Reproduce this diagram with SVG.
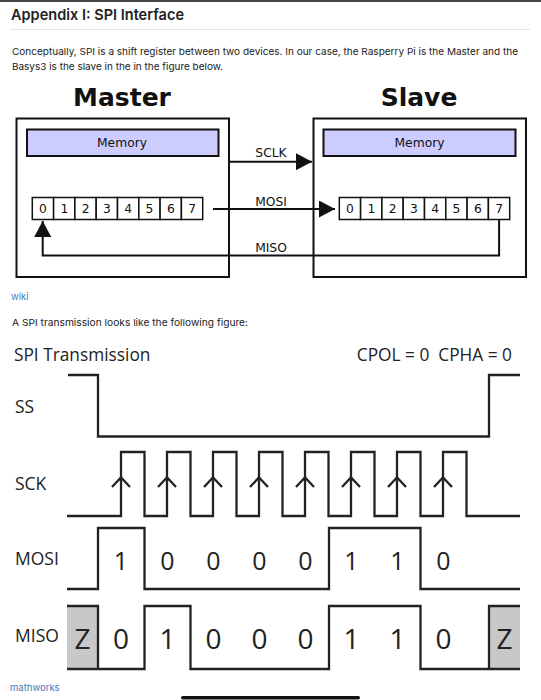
<svg xmlns="http://www.w3.org/2000/svg" width="541" height="700" viewBox="0 0 541 700">
<style>
.page{font-family:Inter,"Liberation Sans",sans-serif;fill:#222}
.link{font-family:Inter,"Liberation Sans",sans-serif;fill:#4a78b4;font-size:9.5px}
.dj{font-family:"DejaVu Sans",sans-serif;fill:#111}
.box{fill:#fff;stroke:#111;stroke-width:2}
.mem{fill:#ccccff;stroke:#111;stroke-width:2}
.cell{fill:#fff;stroke:#111;stroke-width:1.5}
.wire{fill:none;stroke:#111;stroke-width:2}
.sig{fill:none;stroke:#222;stroke-width:2.3;stroke-linejoin:miter}
.ts{font-family:"Open Sans","Noto Sans",sans-serif;fill:#222}
.zbox{fill:#c8c8c8}
</style>
<defs>
<marker id="arrow" viewBox="0 0 16 17" markerWidth="16" markerHeight="17" refX="16" refY="8.5" markerUnits="userSpaceOnUse" orient="auto">
<path d="M0,0 L16,8.5 L0,17 Z" fill="#111"/>
</marker>
</defs>
<rect x="0" y="0" width="541" height="700" fill="#fff"/>
<rect x="0" y="0" width="541" height="2" fill="#444"/>

<text class="page" x="11" y="20" font-size="15" font-weight="600" textLength="173" lengthAdjust="spacingAndGlyphs">Appendix I: SPI Interface</text>
<line x1="10" y1="29.5" x2="530" y2="29.5" stroke="#e4e4e4" stroke-width="1"/>
<text class="page" x="12" y="55" font-size="9.5" textLength="506" lengthAdjust="spacingAndGlyphs">Conceptually, SPI is a shift register between two devices. In our case, the Rasperry Pi is the Master and the</text>
<text class="page" x="12" y="70" font-size="9.5" textLength="211" lengthAdjust="spacingAndGlyphs">Basys3 is the slave in the in the figure below.</text>

<g id="master">
<text class="dj" x="122" y="106" font-size="25" font-weight="bold" text-anchor="middle">Master</text>
<rect class="box" x="16.5" y="118.5" width="212.5" height="158.5"/>
<rect class="mem" x="27" y="129.5" width="191.5" height="26.5"/>
<text class="dj" x="122" y="147" font-size="12.3" text-anchor="middle">Memory</text>
<g id="master-register">
<rect class="cell" x="32.3" y="197.5" width="21.3" height="22"/>
<rect class="cell" x="53.6" y="197.5" width="21.3" height="22"/>
<rect class="cell" x="74.9" y="197.5" width="21.3" height="22"/>
<rect class="cell" x="96.2" y="197.5" width="21.3" height="22"/>
<rect class="cell" x="117.5" y="197.5" width="21.3" height="22"/>
<rect class="cell" x="138.8" y="197.5" width="21.3" height="22"/>
<rect class="cell" x="160.1" y="197.5" width="21.3" height="22"/>
<rect class="cell" x="181.4" y="197.5" width="21.3" height="22"/>
<g font-size="12.3" text-anchor="middle" class="dj">
<text x="43" y="213">0</text><text x="64.3" y="213">1</text><text x="85.6" y="213">2</text><text x="106.9" y="213">3</text><text x="128.2" y="213">4</text><text x="149.5" y="213">5</text><text x="170.8" y="213">6</text><text x="192.1" y="213">7</text>
</g>
</g>
</g>

<g id="slave">
<text class="dj" x="419" y="106" font-size="25" font-weight="bold" text-anchor="middle">Slave</text>
<rect class="box" x="313.5" y="118.5" width="212.5" height="158.5"/>
<rect class="mem" x="323.5" y="129.5" width="192" height="26.5"/>
<text class="dj" x="419.5" y="147" font-size="12.3" text-anchor="middle">Memory</text>
<g id="slave-register">
<rect class="cell" x="339.3" y="197.5" width="21.3" height="22"/>
<rect class="cell" x="360.6" y="197.5" width="21.3" height="22"/>
<rect class="cell" x="381.9" y="197.5" width="21.3" height="22"/>
<rect class="cell" x="403.2" y="197.5" width="21.3" height="22"/>
<rect class="cell" x="424.5" y="197.5" width="21.3" height="22"/>
<rect class="cell" x="445.8" y="197.5" width="21.3" height="22"/>
<rect class="cell" x="467.1" y="197.5" width="21.3" height="22"/>
<rect class="cell" x="488.4" y="197.5" width="21.3" height="22"/>
<g font-size="12.3" text-anchor="middle" class="dj">
<text x="350" y="213">0</text><text x="371.3" y="213">1</text><text x="392.6" y="213">2</text><text x="413.9" y="213">3</text><text x="435.2" y="213">4</text><text x="456.5" y="213">5</text><text x="477.8" y="213">6</text><text x="499.1" y="213">7</text>
</g>
</g>
</g>

<g id="connectors">
<line class="wire" x1="229" y1="161.7" x2="312" y2="161.7" marker-end="url(#arrow)"/>
<line class="wire" x1="213" y1="209" x2="335" y2="209" marker-end="url(#arrow)"/>
<path class="wire" d="M499.1,220 V255.5 H42.7 V221" marker-end="url(#arrow)"/>
<g class="dj" font-size="12.3" text-anchor="middle">
<text x="271" y="157">SCLK</text>
<text x="271" y="205.5">MOSI</text>
<text x="271" y="251.5">MISO</text>
</g>
</g>

<text class="link" x="11" y="300">wiki</text>
<text class="page" x="12" y="326" font-size="9.5" textLength="236" lengthAdjust="spacingAndGlyphs">A SPI transmission looks like the following figure:</text>

<g id="timing">
<text class="ts" x="14" y="361" font-size="17.3">SPI Transmission</text>
<text class="ts" x="512" y="361" font-size="17.3" text-anchor="end" xml:space="preserve">CPOL = 0  CPHA = 0</text>
<g class="ts" font-size="17.5">
<text x="15" y="413">SS</text>
<text x="15" y="490">SCK</text>
<text x="15" y="565">MOSI</text>
<text x="15" y="642">MISO</text>
</g>
<path class="sig" d="M68,375 H98 V436.5 H489 V375 H520"/>
<path class="sig" d="M67,516 H121 V452 H144.5 V516 H167 V452 H190.5 V516 H213 V452 H236.5 V516 H259 V452 H282.5 V516 H305 V452 H328.5 V516 H351 V452 H374.5 V516 H397 V452 H420.5 V516 H443 V452 H466.5 V516 H520"/>
<path class="sig" d="M112,487 L121,477.5 L130,487 M158,487 L167,477.5 L176,487 M204,487 L213,477.5 L222,487 M250,487 L259,477.5 L268,487 M296,487 L305,477.5 L314,487 M342,487 L351,477.5 L360,487 M388,487 L397,477.5 L406,487 M434,487 L443,477.5 L452,487"/>
<path class="sig" d="M67,589 H98 V528 H144.5 V589 H329 V528 H420.5 V589 H520"/>
<g class="ts" font-size="25" text-anchor="middle">
<text x="121" y="570">1</text><text x="167.5" y="570">0</text><text x="213.5" y="570">0</text><text x="259.5" y="570">0</text><text x="305.5" y="570">0</text><text x="351.5" y="570">1</text><text x="397.5" y="570">1</text><text x="443.5" y="570">0</text>
</g>
<rect class="zbox" x="67" y="606" width="31" height="63"/>
<rect class="zbox" x="489" y="606" width="31" height="63"/>
<path class="sig" d="M67,606 H98 V669 M67,669 H144.5 V606 H190.5 V669 H329 V606 H420.5 V669 H520 M489,669 V606 H520"/>
<g class="ts" font-size="28" text-anchor="middle">
<text x="82.5" y="649">Z</text><text x="121" y="649">0</text><text x="167.5" y="649">1</text><text x="213.5" y="649">0</text><text x="259.5" y="649">0</text><text x="305.5" y="649">0</text><text x="351.5" y="649">1</text><text x="397.5" y="649">1</text><text x="443.5" y="649">0</text><text x="504.5" y="649">Z</text>
</g>
</g>

<text class="link" x="10" y="691">mathworks</text>
<rect x="181" y="696" width="179" height="3.5" rx="1.75" fill="#111"/>
</svg>
